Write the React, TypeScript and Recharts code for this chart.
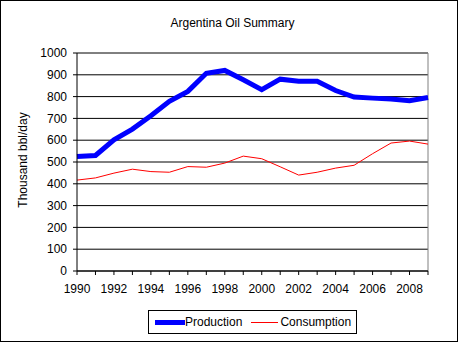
import { LineChart, Line, XAxis, YAxis, CartesianGrid, ReferenceLine } from 'recharts'

const years = [
  1990, 1991, 1992, 1993, 1994, 1995, 1996, 1997, 1998, 1999,
  2000, 2001, 2002, 2003, 2004, 2005, 2006, 2007, 2008, 2009,
]
const production = [
  525, 530, 602, 651, 712, 778, 824, 907, 920, 877,
  832, 880, 870, 870, 828, 798, 793, 789, 781, 796,
]
const consumption = [
  417, 427, 449, 467, 456, 453, 479, 476, 495, 527,
  515, 478, 440, 453, 472, 485, 538, 587, 596, 582,
]
const yTicks = [0, 100, 200, 300, 400, 500, 600, 700, 800, 900, 1000]

const FONT = 'Arial, "Liberation Sans", sans-serif'

const data = years.map((year, i) => ({
  year,
  production: production[i],
  consumption: consumption[i],
}))

function LegendBox() {
  return (
    <div
      style={{
        position: 'absolute',
        left: 148,
        top: 310,
        width: 209,
        height: 24,
        border: '1px solid #000',
        display: 'flex',
        alignItems: 'center',
        fontFamily: FONT,
        fontSize: 12,
        color: '#000',
        boxSizing: 'border-box',
        paddingLeft: 6,
        background: '#fff',
      }}
    >
      <span style={{ display: 'inline-block', width: 30, height: 5, background: '#0000FF' }} />
      <span>Production</span>
      <span style={{ display: 'inline-block', width: 27, height: 1, background: '#FF0000', marginLeft: 9 }} />
      <span style={{ marginLeft: 2 }}>Consumption</span>
    </div>
  )
}

export default function App() {
  return (
    <div style={{ position: 'absolute', left: 0, top: 0, width: 459, height: 343, background: '#fff' }}>
      <div
        style={{
          position: 'absolute',
          left: 0,
          top: 0,
          width: 458,
          height: 342,
          border: '1px solid #000',
          boxSizing: 'border-box',
        }}
      />
      <div
        style={{
          position: 'absolute',
          left: 0,
          width: 459,
          top: 16,
          textAlign: 'center',
          fontFamily: FONT,
          fontSize: 12,
          color: '#000',
          paddingLeft: 6,
          boxSizing: 'border-box',
        }}
      >
        Argentina Oil Summary
      </div>
      <LineChart
        width={459}
        height={343}
        data={data}
        margin={{ top: 53, right: 31, bottom: 42, left: 0 }}
        style={{ position: 'absolute', left: 0, top: 0 }}
      >
        <CartesianGrid horizontal vertical={false} stroke="#000" strokeOpacity={1} />
        <XAxis
          dataKey="year"
          type="number"
          domain={[1990, 2009]}
          ticks={years}
          interval={0}
          height={30}
          tickFormatter={(v: number) => (v % 2 === 0 ? String(v) : '')}
          tick={{ fontSize: 12, fontFamily: FONT, fill: '#000' }}
          stroke="#000"
          tickSize={4}
          tickMargin={9}
        />
        <YAxis
          domain={[0, 1000]}
          ticks={yTicks}
          interval={0}
          width={77}
          tick={{ fontSize: 12, fontFamily: FONT, fill: '#000' }}
          stroke="#000"
          tickSize={4}
          tickMargin={6}
          label={{
            content: () => (
              <text
                x={27}
                y={160}
                transform="rotate(-90, 27, 160)"
                textAnchor="middle"
                fontSize={12}
                fontFamily={FONT}
                fill="#000"
              >
                Thousand bbl/day
              </text>
            ),
          }}
        />
        <ReferenceLine y={1000} stroke="#808080" />
        <ReferenceLine x={2009} stroke="#808080" />
        <Line
          type="linear"
          dataKey="consumption"
          stroke="#FF0000"
          strokeWidth={1}
          dot={false}
          isAnimationActive={false}
        />
        <Line
          type="linear"
          dataKey="production"
          stroke="#0000FF"
          strokeWidth={5}
          dot={false}
          isAnimationActive={false}
        />
      </LineChart>
      <LegendBox />
    </div>
  )
}
